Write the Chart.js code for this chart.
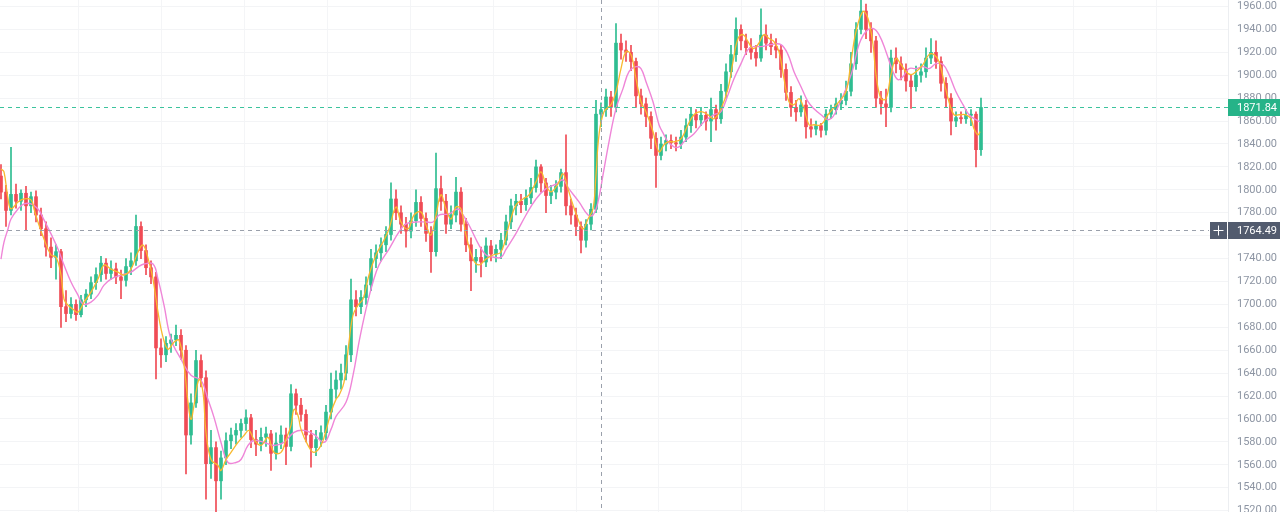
<!DOCTYPE html>
<html>
<head>
<meta charset="utf-8">
<script src="https://cdn.jsdelivr.net/npm/chart.js@4.4.1/dist/chart.umd.min.js"></script>
<style>
html,body{margin:0;padding:0;background:#ffffff;}
#wrap{width:1280px;height:512px;}
</style>
</head>
<body>
<div id="wrap"><canvas id="c" width="1280" height="512"></canvas></div>
<script>
// ---- Candle data (one candle per slot) ----
const opens = [
1812,1798,1782,1796,1790,1797,1786,1794,1778,1766,
1750,1741,1746,1698,1692,1700,1691,1704,1709,1719,
1726,1736,1727,1731,1724,1721,1733,1738,1768,1747,
1732,1724,1662,1656,1666,1669,1673,1660,1586,1614,
1651,1636,1561,1575,1546,1566,1581,1586,1590,1596,
1601,1582,1578,1584,1587,1570,1579,1586,1576,1622,
1612,1604,1586,1575,1582,1588,1606,1626,1634,1640,
1656,1704,1698,1706,1717,1740,1745,1752,1761,1792,
1780,1770,1764,1773,1789,1775,1762,1746,1801,1790,
1770,1778,1798,1770,1752,1738,1741,1737,1751,1744,
1748,1756,1772,1786,1790,1787,1793,1802,1820,1806,
1795,1798,1803,1815,1786,1778,1768,1756,1770,1783,
1866,1870,1881,1872,1928,1922,1920,1912,1882,1875,
1864,1845,1830,1840,1843,1841,1840,1846,1856,1866,
1861,1865,1860,1870,1862,1886,1903,1918,1940,1930,
1924,1920,1915,1935,1928,1925,1922,1905,1885,1872,
1868,1874,1855,1853,1856,1852,1866,1870,1875,1878,
1886,1910,1940,1956,1940,1930,1880,1875,1872,1915,
1910,1905,1895,1890,1900,1903,1915,1920,1912,1893,
1880,1860,1863,1862,1865,1866,1835
];
const highs = [
1822,1804,1837,1805,1800,1803,1798,1799,1784,1772,
1758,1752,1748,1712,1706,1704,1708,1713,1724,1732,
1742,1740,1738,1736,1730,1740,1745,1778,1772,1752,
1738,1728,1670,1672,1674,1682,1678,1664,1622,1660,
1656,1642,1590,1580,1572,1588,1592,1596,1600,1608,
1604,1590,1592,1593,1590,1588,1594,1592,1630,1626,
1618,1608,1590,1590,1594,1612,1640,1642,1648,1664,
1722,1712,1712,1724,1748,1752,1758,1768,1806,1800,
1786,1776,1780,1800,1794,1780,1768,1832,1812,1796,
1786,1811,1802,1775,1758,1748,1750,1758,1756,1752,
1762,1778,1792,1796,1796,1800,1810,1826,1822,1810,
1804,1808,1818,1848,1792,1784,1772,1774,1788,1878,
1876,1888,1886,1945,1936,1930,1926,1915,1888,1880,
1868,1850,1846,1848,1848,1846,1852,1862,1872,1870,
1872,1868,1880,1874,1892,1910,1926,1950,1944,1936,
1932,1926,1958,1944,1936,1932,1926,1910,1890,1878,
1882,1878,1862,1860,1858,1870,1874,1880,1884,1895,
1920,1946,1966,1962,1946,1934,1886,1888,1922,1924,
1916,1910,1900,1908,1910,1924,1932,1930,1916,1898,
1884,1868,1868,1870,1870,1868,1880
];
const lows = [
1792,1768,1778,1784,1782,1765,1780,1772,1760,1742,
1732,1722,1680,1685,1688,1686,1689,1698,1705,1713,
1720,1722,1722,1718,1705,1716,1726,1734,1740,1726,
1718,1635,1645,1650,1658,1664,1652,1552,1578,1610,
1628,1530,1548,1518,1530,1560,1574,1578,1584,1590,
1575,1568,1572,1576,1555,1565,1574,1560,1572,1604,
1598,1580,1558,1568,1576,1582,1600,1618,1626,1634,
1650,1690,1692,1700,1712,1732,1738,1746,1756,1774,
1762,1750,1758,1768,1768,1755,1728,1742,1782,1762,
1766,1772,1764,1746,1712,1728,1724,1733,1738,1737,
1740,1752,1766,1778,1780,1782,1788,1798,1798,1780,
1788,1792,1798,1778,1770,1760,1745,1750,1765,1780,
1855,1864,1864,1868,1914,1912,1904,1872,1866,1855,
1836,1802,1826,1834,1836,1834,1836,1842,1850,1854,
1856,1852,1842,1852,1858,1880,1898,1912,1922,1918,
1914,1908,1912,1922,1918,1915,1898,1878,1864,1860,
1864,1845,1846,1848,1846,1848,1862,1866,1870,1874,
1882,1905,1936,1932,1920,1872,1866,1855,1868,1902,
1896,1886,1871,1886,1894,1898,1910,1906,1886,1872,
1848,1855,1858,1858,1856,1820,1830
];
const closes = [
1798,1782,1796,1790,1797,1786,1794,1778,1766,1750,
1741,1746,1698,1692,1700,1691,1704,1709,1719,1726,
1736,1727,1731,1724,1721,1733,1738,1768,1747,1732,
1724,1662,1656,1666,1669,1673,1660,1586,1614,1651,
1636,1561,1575,1546,1566,1581,1586,1590,1596,1601,
1582,1578,1584,1587,1570,1579,1586,1576,1622,1612,
1604,1586,1575,1582,1588,1606,1626,1634,1640,1656,
1704,1698,1706,1717,1740,1745,1752,1761,1792,1780,
1770,1764,1773,1789,1775,1762,1746,1801,1790,1770,
1778,1798,1770,1752,1738,1741,1737,1751,1744,1748,
1756,1772,1786,1790,1787,1793,1802,1820,1806,1795,
1798,1803,1815,1786,1778,1768,1756,1770,1783,1866,
1870,1881,1872,1928,1922,1920,1912,1882,1875,1864,
1845,1830,1840,1843,1841,1840,1846,1856,1866,1861,
1865,1860,1870,1862,1886,1903,1918,1940,1930,1924,
1920,1915,1935,1928,1925,1922,1905,1885,1872,1868,
1874,1855,1853,1856,1852,1866,1870,1875,1878,1886,
1910,1940,1956,1940,1930,1880,1875,1872,1915,1910,
1905,1895,1890,1900,1903,1915,1920,1912,1893,1880,
1860,1863,1862,1865,1866,1835,1871.84
];

// ---- Moving averages ----
const maFastPos = [0,0.6,1.4,2,3.4,4.6,6,6.6,7.4,8.6,10,11,12,12.6,13.4,14.4,15.4,16.6,18,19.4,20.6,22,23.4,24.6,26,27.4,28.4,29.4,30.4,31.4,32.4,33.4,34.6,35.6,36.6,37.4,38,38.6,39.6,40.4,41,42,43.4,44,45,46,47.4,48.6,49.6,50.6,52,53.4,54.6,56,57,58,58.6,59.4,60,61.4,62.6,64,65,66,67,67.6,68.6,69.6,70.4,71.4,72.4,73.6,75,76.4,77.6,79,80,81.4,82.6,84,85,86,87,88,89,90,91,92,93,94.4,95.6,97,98.4,100,101.6,103,104.4,105.6,107,108,109,110,111.4,112.4,113.4,114.4,115.4,116.4,117.4,118.4,119,119.6,120.6,122,123,124,125,126,127,128,129,130.4,131.6,132.6,133.4,134.6,136,137.4,138.6,140,141.4,142.6,144,145.4,146.4,147.4,148.4,149.4,150.4,151.4,152.6,153.6,154.6,155.6,156.6,157.6,158.6,159.6,160.6,161.6,162.6,164,165.4,166.4,167.6,169,170,171,172.4,173.4,174.4,175,176,177,178,179,180,181,182,183,184.4,185.6,186.6,187.6,188.6,189.6,190.6,191.6,193,194,194.6,195.4,195.8];
const maFast = [1818.3,1815.7,1792.0,1783.3,1789.4,1792.0,1791.2,1783.3,1771.9,1757.1,1743.1,1741.3,1725.6,1704.6,1699.3,1695.8,1693.2,1702.0,1710.7,1722.1,1734.4,1730.8,1728.2,1725.6,1730.8,1745.7,1751.8,1740.4,1722.1,1693.2,1671.4,1660.9,1667.0,1668.7,1646.9,1614.5,1599.6,1611.9,1634.6,1623.2,1588.3,1564.6,1559.4,1555.0,1564.6,1570.8,1579.5,1585.6,1590.0,1582.1,1576.9,1583.9,1570.8,1570.8,1582.1,1594.4,1608.4,1603.1,1590.9,1576.9,1570.8,1576.9,1590.0,1605.7,1617.1,1620.6,1632.0,1667.0,1690.6,1699.3,1704.6,1725.6,1743.1,1754.4,1765.8,1785.0,1771.9,1765.8,1778.0,1780.7,1769.3,1760.6,1778.0,1795.6,1783.3,1774.5,1785.0,1783.3,1760.6,1739.6,1734.4,1739.6,1743.1,1745.7,1769.3,1786.8,1792.0,1795.6,1806.9,1815.7,1804.3,1798.2,1805.2,1814.0,1800.8,1786.8,1774.5,1765.8,1774.5,1783.3,1813.0,1848.0,1868.2,1874.3,1885.6,1905.8,1920.6,1918.0,1897.0,1876.9,1868.2,1850.7,1833.2,1839.3,1841.9,1841.9,1844.5,1856.8,1865.5,1868.2,1865.5,1862.0,1870.8,1888.3,1911.9,1932.0,1935.5,1929.4,1923.3,1926.8,1935.5,1932.0,1929.4,1920.6,1897.0,1876.9,1874.3,1879.5,1870.8,1856.8,1856.8,1856.8,1865.5,1870.8,1876.9,1885.6,1911.9,1938.1,1955.6,1949.5,1926.8,1900.5,1879.5,1879.5,1900.5,1914.5,1909.3,1903.1,1900.5,1903.1,1909.3,1918.0,1918.0,1911.9,1894.4,1876.9,1865.5,1865.5,1865.5,1862.0,1853.3,1848.0,1850.7];

const maSlowPos = [0,0.6,1.4,2,3.4,4.6,6,7.4,8.6,10,11.4,12.6,14,15.4,16.4,18,19.4,20.6,22,24,26,27.4,28.6,30.4,31.4,32.6,34,36,38,40,41.4,42.6,44,45.4,47,48,49.4,50.6,52.6,54.6,56.6,58.6,60.6,62.6,64.6,66,67,69,70.4,71.6,73,74.4,75.6,77.6,79.6,81,83,85,86.4,87.6,89.6,91.4,92.4,93.6,95.6,97,98.4,100,101,103,105,107,109,111,112.4,113.6,115.6,117.4,118.4,119.4,120.4,121.6,123,124.4,125.6,127,128,129,130.4,131.6,132.6,133.4,134.6,135.6,136.6,138.6,140.6,142.6,144,145.4,146.6,148,149.4,150.6,152,154,156,157.4,158.6,160,161.4,162.6,164,165.4,166.4,167.6,169,170.4,171.6,173,174.4,175.6,177,178.4,179.4,180.4,181.6,183,184.4,185.6,187,188.4,189.6,191,192.4,193.6,195,195.8];
const maSlow = [1739.6,1754.4,1765.8,1774.5,1783.3,1787.7,1787.7,1783.3,1773.7,1761.5,1748.3,1734.4,1719.5,1708.1,1700.2,1702.0,1708.1,1716.8,1722.1,1725.6,1728.2,1732.6,1735.2,1735.2,1722.1,1699.3,1669.6,1652.1,1638.1,1633.7,1617.0,1601.4,1579.5,1562.0,1562.0,1564.6,1576.9,1581.2,1579.5,1576.9,1579.5,1588.3,1590.0,1586.5,1579.5,1590.9,1602.2,1614.5,1638.1,1667.0,1695.8,1719.5,1734.4,1748.3,1763.2,1770.2,1771.9,1771.9,1771.9,1778.0,1778.9,1783.3,1778.0,1769.3,1751.8,1743.1,1741.3,1741.0,1748.0,1762.0,1778.0,1792.0,1801.0,1805.0,1808.7,1800.8,1789.4,1778.0,1778.0,1789.4,1813.0,1841.9,1870.8,1888.3,1903.1,1907.5,1905.8,1894.4,1876.9,1856.8,1848.0,1841.9,1837.5,1837.5,1841.9,1849.0,1859.4,1865.5,1868.2,1883.0,1897.0,1910.1,1922.4,1925.0,1925.0,1926.8,1926.8,1918.0,1903.1,1890.0,1876.9,1870.8,1865.5,1861.2,1863.8,1874.3,1888.3,1905.8,1926.8,1938.1,1940.8,1935.5,1920.6,1903.1,1896.1,1898.8,1905.8,1905.8,1907.5,1905.8,1910.1,1909.3,1900.5,1885.6,1874.3,1865.5,1861.2,1859.4];

// ---- Axis / marker values ----
const yTicks = [1520,1540,1560,1580,1600,1620,1640,1660,1680,1700,1720,1740,1760,1780,1800,1820,1840,1860,1880,1900,1920,1940,1960];
const lastPrice = 1871.84;
const crossPrice = 1764.49;
const crossIndex = 120;
const xGridStart = 15.4, xGridStep = 16.6;

const UP = '#2ebd91', DOWN = '#f04b55';
const idx = opens.map((_, i) => i);
const candleColors = idx.map(i => closes[i] >= opens[i] ? UP : DOWN);

const overlay = {
  id: 'overlay',
  afterDatasetsDraw(chart) {
    const {ctx, chartArea: a, scales: {x, y}} = chart;
    ctx.save();
    ctx.lineWidth = 1;
    ctx.strokeStyle = '#9aa0ab';
    ctx.setLineDash([4, 4]);
    const xc = Math.round(x.getPixelForValue(crossIndex)) + 0.5;
    ctx.beginPath(); ctx.moveTo(xc, 0); ctx.lineTo(xc, chart.height); ctx.stroke();
    const yc = Math.round(y.getPixelForValue(crossPrice)) + 0.5;
    ctx.beginPath(); ctx.moveTo(a.left, yc); ctx.lineTo(a.right - 19, yc); ctx.stroke();
    const yl = Math.round(y.getPixelForValue(lastPrice));
    ctx.setLineDash([]);
    ctx.fillStyle = '#3cc39d';
    for (let px = a.left; px < a.right; px += 8) {
      ctx.fillRect(px, yl, 4, 1);
    }
    ctx.restore();
  },
  afterDraw(chart) {
    const {ctx, chartArea: a, scales: {y}} = chart;
    const W = chart.width;
    ctx.save();
    const yl = Math.round(y.getPixelForValue(lastPrice));
    ctx.fillStyle = '#26b388';
    ctx.fillRect(a.right, yl - 8, W - a.right, 17);
    ctx.fillStyle = '#ffffff';
    ctx.font = '11px Roboto, "Noto Sans", sans-serif';
    ctx.textBaseline = 'middle';
    ctx.textAlign = 'left';
    ctx.fillText(lastPrice.toFixed(2), a.right + 9, yl + 1);
    const yc = Math.round(y.getPixelForValue(crossPrice));
    ctx.fillStyle = '#525b6e';
    ctx.fillRect(a.right - 18, yc - 8, 17, 17);
    ctx.fillRect(a.right, yc - 8, W - a.right, 17);
    ctx.fillStyle = '#ffffff';
    ctx.fillText(crossPrice.toFixed(2), a.right + 9, yc + 1);
    ctx.strokeStyle = '#ffffff';
    ctx.lineWidth = 1;
    const cx = a.right - 9.5, cy = yc + 0.5;
    ctx.beginPath();
    ctx.moveTo(cx - 5, cy); ctx.lineTo(cx + 5, cy);
    ctx.moveTo(cx, cy - 5); ctx.lineTo(cx, cy + 5);
    ctx.stroke();
    ctx.restore();
  }
};

Chart.defaults.font.family = 'Roboto, "Noto Sans", sans-serif';

new Chart(document.getElementById('c'), {
  type: 'bar',
  data: {
    datasets: [
      {
        type: 'line', label: 'MA fast', order: 0,
        data: maFastPos.map((p, i) => ({x: p, y: maFast[i]})),
        borderColor: '#f8b92e', borderWidth: 1.3, pointRadius: 0, tension: 0.4, fill: false
      },
      {
        type: 'line', label: 'MA slow', order: 0,
        data: maSlowPos.map((p, i) => ({x: p, y: maSlow[i]})),
        borderColor: '#ef86d8', borderWidth: 1.4, pointRadius: 0, tension: 0.4, fill: false
      },
      {
        label: 'bodies', order: 1, grouped: false,
        data: idx.map(i => ({x: i, y: [opens[i], closes[i]]})),
        backgroundColor: candleColors, borderWidth: 0, barThickness: 3
      },
      {
        label: 'wicks', order: 2, grouped: false,
        data: idx.map(i => ({x: i, y: [lows[i], highs[i]]})),
        backgroundColor: candleColors, borderWidth: 0, barThickness: 1
      }
    ]
  },
  options: {
    responsive: false,
    animation: false,
    devicePixelRatio: 1,
    layout: {padding: 0},
    plugins: {legend: {display: false}, tooltip: {enabled: false}},
    scales: {
      x: {
        type: 'linear', min: -0.2, max: 245.4, offset: false,
        ticks: {display: false},
        grid: {color: '#f4f5f7', drawTicks: false, offset: false},
        border: {display: false},
        afterBuildTicks(s) {
          const t = [];
          for (let v = xGridStart; v < s.max; v += xGridStep) t.push({value: v});
          s.ticks = t;
        },
        afterFit(s) { s.height = 0; s.paddingLeft = 0; s.paddingRight = 0; s.paddingTop = 0; s.paddingBottom = 0; }
      },
      y: {
        type: 'linear', position: 'right', min: 1518.8, max: 1965.66,
        grid: {color: '#f3f4f6', drawTicks: false},
        border: {display: true, color: '#eceef1'},
        ticks: {
          color: '#8d95a3', padding: 9, autoSkip: false,
          font: {size: 11},
          callback: v => Number(v).toFixed(2)
        },
        afterBuildTicks(s) { s.ticks = yTicks.map(v => ({value: v})); },
        afterFit(s) { s.width = 52; s.paddingTop = 0; s.paddingBottom = 0; }
      }
    }
  },
  plugins: [overlay]
});
</script>
</body>
</html>
